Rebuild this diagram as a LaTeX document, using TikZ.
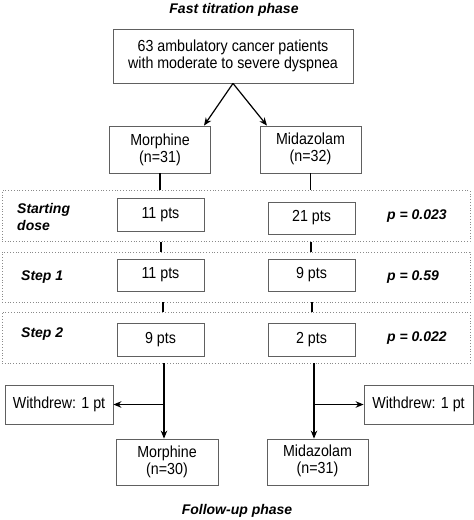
\documentclass[tikz,border=0pt]{standalone}
\usepackage{fontspec}
\setmainfont[FakeStretch=0.89]{Liberation Sans}
\newfontfamily\lblfont{Liberation Sans}
\usetikzlibrary{arrows.meta}
\definecolor{boxgray}{HTML}{606060}
\definecolor{dotgray}{HTML}{8A8A8A}
\newcommand{\lowtwo}[2]{\raisebox{-3.5pt}{\begin{tabular}{@{}c@{}}#1\\#2\end{tabular}}}
\begin{document}
\begin{tikzpicture}[x=1pt,y=-1pt,
  every node/.style={font=\fontsize{16}{17}\selectfont, inner sep=0pt},
  box/.style={draw=boxgray, line width=0.8pt, fill=white, align=center},
  band/.style={draw=dotgray, dotted, line width=0.8pt},
  bi/.style={font=\lblfont\fontsize{14}{17}\selectfont\bfseries\itshape},
  lbl/.style={bi, align=left, anchor=west},
  conn/.style={line width=1.2pt, black},
  arr/.style={conn, -{Stealth[length=8pt,width=6.5pt]}}]
\useasboundingbox (0,0) rectangle (474,520);
\node[bi] (t1) at (234,10) {Fast titration phase};
\node[box, minimum width=240pt, minimum height=54pt] (top) at (233,56) {63 ambulatory cancer patients\\with moderate to severe dyspnea};
\node[box, minimum width=101pt, minimum height=47pt] (m1) at (160,149.5) {Morphine\\(n=31)};
\node[box, minimum width=101pt, minimum height=47pt, align=none] (z1) at (310.5,149.5) {\lowtwo{Midazolam}{(n=32)}};
\node[band, minimum width=468pt, minimum height=51pt] (b1) at (236,216) {};
\node[band, minimum width=468pt, minimum height=50pt] (b2) at (236,277) {};
\node[band, minimum width=468pt, minimum height=51pt] (b3) at (236,337.5) {};
\node[box, minimum width=87pt, minimum height=33pt] (s0l) at (160.5,214.5) {11 pts};
\node[box, minimum width=87pt, minimum height=32pt] (s0r) at (311.5,218) {21 pts};
\node[box, minimum width=87pt, minimum height=32pt] (s1l) at (160.5,275) {11 pts};
\node[box, minimum width=87pt, minimum height=32pt] (s1r) at (311.5,275) {9 pts};
\node[box, minimum width=87pt, minimum height=33pt] (s2l) at (160.5,339.5) {9 pts};
\node[box, minimum width=87pt, minimum height=33pt] (s2r) at (311.5,339.5) {2 pts};
\node[lbl] (l0) at (17,217) {Starting\\dose};
\node[lbl] (l1) at (21,277) {Step 1};
\node[lbl] (l2) at (21,334) {Step 2};
\node[lbl] (p0) at (387,216) {p = 0.023};
\node[lbl] (p1) at (387,277) {p = 0.59};
\node[lbl] (p2) at (387,338) {p = 0.022};
\node[box, minimum width=108pt, minimum height=39pt] (wl) at (59,404.5) {Withdrew: 1 pt};
\node[box, minimum width=109pt, minimum height=39pt] (wr) at (418.5,404.5) {Withdrew: 1 pt};
\node[box, minimum width=102pt, minimum height=46pt] (m2) at (167,462) {Morphine\\(n=30)};
\node[box, minimum width=101pt, minimum height=46pt, align=none] (z2) at (317.5,462) {\lowtwo{Midazolam}{(n=31)}};
\node[bi] (t2) at (237,511) {Follow-up phase};
% connectors
\draw[arr] (top.south) -- (m1.north east -| 204,0);
\draw[arr] (top.south) -- (z1.north west -| 267,0);
\draw[conn] (m1.south) -- (m1.south |- b1.north);
\draw[conn] (z1.south) -- (z1.south |- b1.north);
\draw[conn] (161,0 |- b1.south) -- (161,0 |- b2.north);
\draw[conn] (311,0 |- b1.south) -- (311,0 |- b2.north);
\draw[conn] (163,0 |- b2.south) -- (163,0 |- b3.north);
\draw[conn] (312,0 |- b2.south) -- (312,0 |- b3.north);
\coordinate (ls) at (164,0 |- b3.south);
\coordinate (rs) at (314,0 |- b3.south);
\draw[arr] (ls) -- (ls |- m2.north);
\draw[arr] (rs) -- (rs |- z2.north);
\draw[arr] (ls |- wl.east) -- (wl.east);
\draw[arr] (rs |- wr.west) -- (wr.west);
\end{tikzpicture}
\end{document}
